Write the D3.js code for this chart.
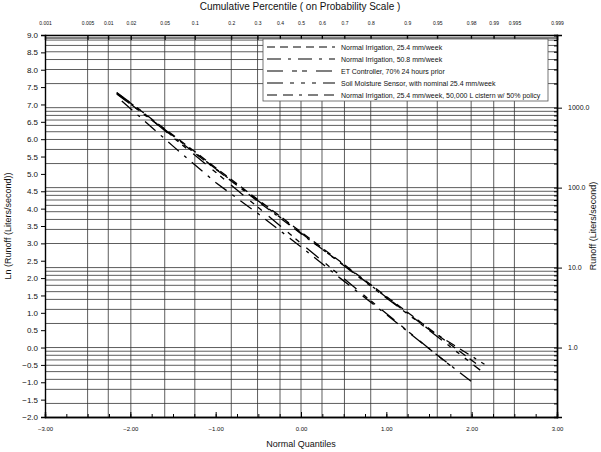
<!DOCTYPE html>
<html><head><meta charset="utf-8">
<script src="https://cdn.jsdelivr.net/npm/d3@7"></script>
<style>body{margin:0;background:#fff}text{font-family:"Liberation Sans",Arial,sans-serif;fill:#111}</style>
</head><body><div id="chart"></div>
<script>
// data: normal quantile vs ln(runoff)
var labels = ["Normal Irrigation, 25.4 mm/week", "Normal Irrigation, 50.8 mm/week",
  "ET Controller, 70% 24 hours prior", "Soil Moisture Sensor, with nominal 25.4 mm/week",
  "Normal Irrigation, 25.4 mm/week, 50,000 L cistern w/ 50% policy"];
var qMain = [-2.16, -1.5, -1, -0.5, 0, 0.5, 1, 1.5, 2.1];
var normal254 = [7.34, 6.12, 5.18, 4.25, 3.33, 2.40, 1.47, 0.55, -0.55];
var q508 = [-2.1, -1.5, -1, -0.5, 0, 0.5, 1, 1.5, 2.05];
var normal508 = [7.1, 5.8, 4.75, 3.85, 2.9, 1.92, 0.95, -0.03, -1.08];
var qET = [-2.16, -1.9, -1.5, -1, -0.5, 0, 0.5, 1, 1.5, 1.75];
var et = [7.34, 6.87, 6.05, 5.05, 4.03, 3.0, 1.99, 0.98, -0.03, -0.52];
var soil = [7.30, 6.10, 5.15, 4.22, 3.30, 2.36, 1.43, 0.50, -0.65];
var qCistern = [-2.14, -1.5, -1, -0.5, 0, 0.5, 1, 1.5, 2.15];
var cistern = [7.28, 6.08, 5.14, 4.20, 3.28, 2.38, 1.45, 0.52, -0.48];
var probTicks = [0.001, 0.005, 0.01, 0.02, 0.05, 0.1, 0.2, 0.3, 0.4, 0.5, 0.6, 0.7, 0.8, 0.9, 0.95, 0.98, 0.99, 0.995, 0.999];
var runoffMajor = [1, 10, 100, 1000];

var series = [
  { name: labels[0], q: qMain, v: normal254, dash: "8,5" },
  { name: labels[1], q: q508, v: normal508, dash: "14,7,3,7" },
  { name: labels[2], q: qET, v: et, dash: "16,9,5,5,5,9" },
  { name: labels[3], q: qMain, v: soil, dash: "16,7,4,7,4,7,4,7" },
  { name: labels[4], q: qCistern, v: cistern, dash: "10,6,10,6,3,6" }
];

var margin = { top: 35, right: 44, bottom: 35, left: 45 },
  width = 601 - margin.left - margin.right,
  height = 452 - margin.top - margin.bottom;

var svg = d3.select("#chart").append("svg").attr("width", 601).attr("height", 452);
var g = svg.append("g").attr("transform", "translate(" + margin.left + "," + margin.top + ")");

var x = d3.scaleLinear().domain([-3, 3]).range([0, width]);
var xp = d3.scaleLinear().domain([d3.quantile ? -3.09 : -3.09, 3.09]).range([0, width]);
var y = d3.scaleLinear().domain([-2, 9]).range([height, 0]);
var inv = function (p) { // inverse normal (Acklam)
  var a = [-39.6968302866538, 220.946098424521, -275.928510446969, 138.357751867269, -30.6647980661472, 2.50662827745924],
    b = [-54.4760987982241, 161.585836858041, -155.698979859887, 66.8013118877197, -13.2806815528857],
    c = [-0.00778489400243029, -0.322396458041136, -2.40075827716184, -2.54973253934373, 4.37466414146497, 2.93816398269878],
    d = [0.00778469570904146, 0.32246712907004, 2.445134137143, 3.75440866190742];
  var q, r;
  if (p < 0.02425) { q = Math.sqrt(-2 * Math.log(p)); return (((((c[0]*q+c[1])*q+c[2])*q+c[3])*q+c[4])*q+c[5]) / ((((d[0]*q+d[1])*q+d[2])*q+d[3])*q+1); }
  if (p > 1 - 0.02425) { q = Math.sqrt(-2 * Math.log(1 - p)); return -(((((c[0]*q+c[1])*q+c[2])*q+c[3])*q+c[4])*q+c[5]) / ((((d[0]*q+d[1])*q+d[2])*q+d[3])*q+1); }
  q = p - 0.5; r = q * q;
  return (((((a[0]*r+a[1])*r+a[2])*r+a[3])*r+a[4])*r+a[5])*q / (((((b[0]*r+b[1])*r+b[2])*r+b[3])*r+b[4])*r+1);
};

// log gridlines
var logVals = [];
[-1, 0, 1, 2, 3].forEach(function (k) {
  for (var m = 1; m < 10; m++) { var l = Math.log(m * Math.pow(10, k)); if (l > -2 && l < 9) logVals.push(l); }
});
g.selectAll(".hg").data(logVals).enter().append("line")
  .attr("x1", 0).attr("x2", width).attr("y1", y).attr("y2", y)
  .attr("stroke", "#333").attr("stroke-width", 0.8);
g.selectAll(".vg").data(probTicks.slice(1, -1)).enter().append("line")
  .attr("x1", function (p) { return xp(inv(p)); }).attr("x2", function (p) { return xp(inv(p)); })
  .attr("y1", 0).attr("y2", height).attr("stroke", "#333").attr("stroke-width", 0.8);

// axes
var yAxis = d3.axisLeft(y).tickValues(d3.range(-2, 9.01, 0.5)).tickFormat(d3.format(".1f")).tickSize(4);
g.append("g").call(yAxis).call(function (a) { a.selectAll("text").style("font-size", "8px"); });
var xAxis = d3.axisBottom(x).tickValues([-3, -2, -1, 0, 1, 2, 3]).tickFormat(d3.format(".2f")).tickSize(-5).tickPadding(10);
g.append("g").attr("transform", "translate(0," + height + ")").call(xAxis)
  .call(function (a) { a.selectAll("text").style("font-size", "6px"); });
g.append("g").attr("transform", "translate(0," + height + ")")
  .call(d3.axisBottom(x).tickValues(d3.range(-2.75, 3, 0.25)).tickSize(-3).tickFormat(""));
var topAxis = d3.axisTop(xp).tickValues(probTicks.map(inv)).tickSize(-5).tickPadding(10)
  .tickFormat(function (d, i) { return probTicks[i]; });
g.append("g").call(topAxis).call(function (a) { a.selectAll("text").style("font-size", "5px"); });
var rAxis = d3.axisRight(y).tickValues(logVals).tickSize(-3).tickFormat("");
g.append("g").attr("transform", "translate(" + width + ",0)").call(rAxis);
g.append("g").attr("transform", "translate(" + width + ",0)")
  .call(d3.axisRight(y).tickValues(runoffMajor.map(Math.log)).tickSize(5).tickPadding(6)
    .tickFormat(function (d, i) { return d3.format(".1f")(runoffMajor[i]); }))
  .call(function (a) { a.selectAll("text").style("font-size", "7px"); });
g.selectAll(".domain").attr("stroke", "#000").attr("stroke-width", 1.4);
g.append("line").attr("x1", 0).attr("x2", width).attr("y1", 3).attr("y2", 3).attr("stroke", "#000");

// series
var line = d3.line().x(function (d) { return x(d[0]); }).y(function (d) { return y(d[1]); });
series.forEach(function (s) {
  g.append("path").attr("d", line(d3.zip(s.q, s.v))).attr("fill", "none")
    .attr("stroke", "#000").attr("stroke-width", 1.3).attr("stroke-dasharray", s.dash);
});

// legend
var lg = g.append("g").attr("transform", "translate(218,4)");
lg.append("rect").attr("width", 285).attr("height", 62).attr("fill", "#fff").attr("stroke", "#555").attr("stroke-width", 0.8);
series.forEach(function (s, i) {
  var yy = 8 + i * 12;
  lg.append("line").attr("x1", 4).attr("x2", 72).attr("y1", yy).attr("y2", yy)
    .attr("stroke", "#000").attr("stroke-width", 1.2).attr("stroke-dasharray", s.dash);
  lg.append("text").attr("x", 78).attr("y", yy + 2.5).style("font-size", "7px").text(s.name);
});

// titles
svg.append("text").attr("x", 300).attr("y", 10).attr("text-anchor", "middle").style("font-size", "10px")
  .text("Cumulative Percentile ( on Probability Scale )");
svg.append("text").attr("x", 301).attr("y", 447).attr("text-anchor", "middle").style("font-size", "9px").text("Normal Quantiles");
svg.append("text").attr("transform", "translate(11,226) rotate(-90)").attr("text-anchor", "middle")
  .style("font-size", "9px").text("Ln (Runoff (Liters/second))");
svg.append("text").attr("transform", "translate(596,226) rotate(-90)").attr("text-anchor", "middle")
  .style("font-size", "9px").text("Runoff (Liters/second)");
</script></body></html>
